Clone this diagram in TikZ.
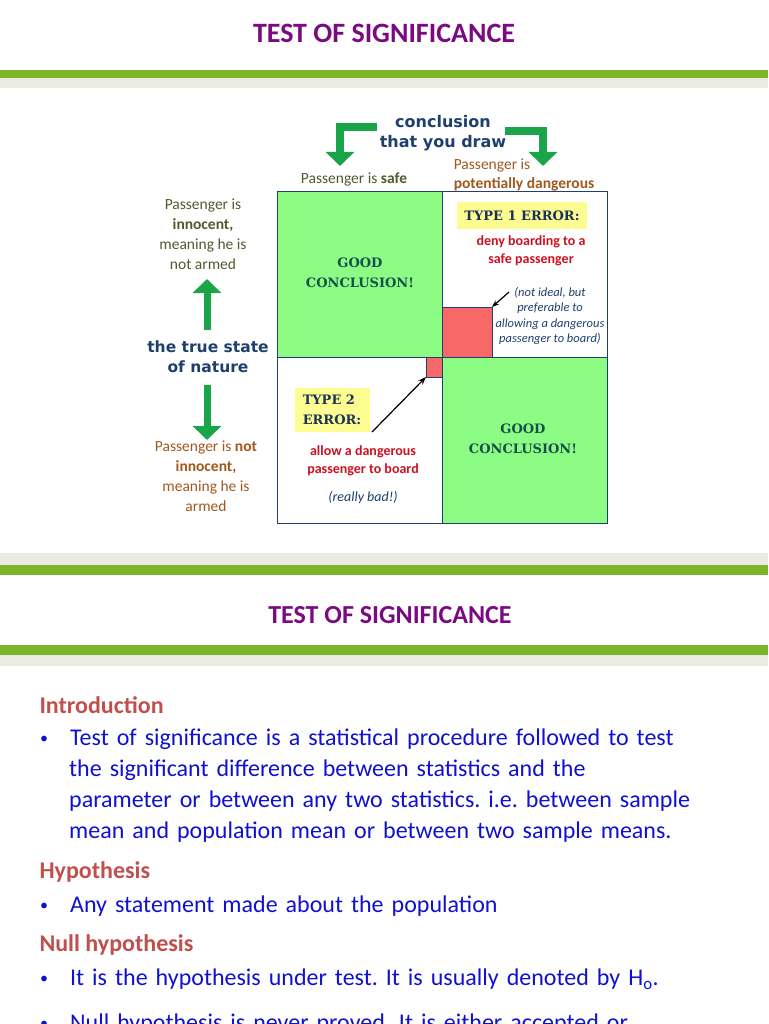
\documentclass[tikz,border=0pt]{standalone}
\usepackage{fontspec}
\setmainfont{Carlito}
\newfontfamily\slab{DejaVu Serif}
\newfontfamily\dvs{DejaVu Sans}
\usetikzlibrary{arrows.meta}
\definecolor{titlec}{HTML}{7B0A82}
\definecolor{barg}{HTML}{7DB52A}
\definecolor{barb}{HTML}{ECEBE2}
\definecolor{boxg}{HTML}{8CFC84}
\definecolor{redsq}{HTML}{F86868}
\definecolor{ylw}{HTML}{FCFC90}
\definecolor{navy}{HTML}{1F3F6E}
\definecolor{olive}{HTML}{4E5A2E}
\definecolor{brn}{HTML}{A0581E}
\definecolor{redt}{HTML}{CC1122}
\definecolor{hdr}{HTML}{C0504D}
\definecolor{bodyb}{HTML}{1010D0}
\definecolor{arrg}{HTML}{1AA54A}
\definecolor{slabc}{HTML}{17504A}
\tikzset{
 title/.style={font=\bfseries\fontsize{28}{30}\selectfont, text=titlec},
 cell/.style={draw=navy, line width=1pt},
 slabt/.style={font=\slab\bfseries\fontsize{13}{20}\selectfont, text=slabc, align=center},
 hd/.style={anchor=west, font=\bfseries\fontsize{24}{26}\selectfont, text=hdr},
 bl/.style={anchor=north west, font=\fontsize{24}{31}\selectfont\frenchspacing, text=bodyb, align=left, text width=720pt, inner sep=0pt},
 garrow/.style={draw=arrg, line width=7pt, -{Triangle[length=14pt,width=28pt]}},
}
\newcommand{\bul}{{\fontsize{16}{16}\selectfont\raisebox{2pt}{\textbullet}}\hspace{22pt}}
\begin{document}
\begin{tikzpicture}[x=1pt,y=-1pt]
\useasboundingbox (0,0) rectangle (768,1024);
\clip (0,0) rectangle (768,1024);
% top slide
\node[title] (t1) at (384,33) {TEST OF SIGNIFICANCE};
\fill[barg] (0,70) rectangle (768,78);
\fill[barb] (0,78) rectangle (768,88);
% cells
\fill[boxg] (277,192) rectangle (442,357);
\fill[boxg] (442,357) rectangle (607,523);
\fill[redsq] (442,307) rectangle (492,357);
\fill[redsq] (426,357) rectangle (442,377);
\draw[cell] (277,192) rectangle (607,523);
\draw[cell] (442,192) -- (442,523);
\draw[cell] (277,357) -- (607,357);
\draw[navy, line width=0.6pt] (442,307) -- (492,307) -- (492,357);
\draw[navy, line width=0.6pt] (426,357) -- (426,377) -- (442,377);
\node[slabt] (g1) at (360,273) {GOOD\\CONCLUSION!};
\node[slabt] (g2) at (523,439) {GOOD\\CONCLUSION!};
\node[fill=ylw, slabt, text=navy!80!black, minimum width=130pt, minimum height=27pt, inner xsep=2pt] (ty1) at (522,216) {TYPE 1 ERROR:};
\node[fill=ylw, slabt, text=navy!80!black, align=left, minimum width=75pt, minimum height=44pt, inner xsep=3pt] (ty2) at (332,410) {TYPE 2\\ERROR:};
\node[text=redt, font=\bfseries\fontsize{14}{17.5}\selectfont, align=center] (d1) at (531,251) {deny boarding to a\\safe passenger};
\node[text=redt, font=\bfseries\fontsize{14}{17.5}\selectfont, align=center] (d2) at (363,461) {allow a dangerous\\passenger to board};
\node[text=navy, font=\itshape\fontsize{14}{16}\selectfont] (rb) at (363,498) {(really bad!)};
\node[text=navy, font=\itshape\fontsize{12.5}{15.5}\selectfont, align=center, inner sep=0pt] (ni) at (550,316) {(not ideal, but\\preferable to\\allowing a dangerous\\passenger to board)};
\coordinate (rs1) at (492,307);
\coordinate (rs2) at (426,377);
\draw[-{Stealth[length=7pt]}, line width=1.2pt] (509,292) -- (rs1);
\draw[-{Stealth[length=8pt]}, line width=1.2pt] (372,432) -- (rs2);
% top labels
\node[text=navy, font=\dvs\bfseries\fontsize{16}{20}\selectfont, align=center] (cl) at (443,133) {conclusion\\that you draw};
\node[text=olive, font=\fontsize{15.5}{16}\selectfont] (ps) at (354,179) {Passenger is \textbf{safe}};
\node[text=brn, font=\fontsize{15.5}{19}\selectfont, align=left] (pd) at (524,175) {Passenger is\\\textbf{potentially dangerous}};
\draw[garrow, line width=8pt] (377,127) -- (340,127) -- (340,166);
\draw[garrow, line width=8pt] (505,131) -- (543,131) -- (543,166);
% left labels
\node[text=olive, font=\fontsize{15.5}{20}\selectfont, align=center] (in1) at (203,234) {Passenger is\\\textbf{innocent,}\\meaning he is\\not armed};
\node[text=navy, font=\dvs\bfseries\fontsize{15.5}{20}\selectfont, align=center] (tsn) at (208,357) {the true state\\of nature};
\node[text=brn, font=\fontsize{15.5}{20}\selectfont, align=center] (in2) at (206,476) {Passenger is \textbf{not}\\\textbf{innocent,}\\meaning he is\\armed};
\draw[garrow] (207,330) -- (207,279);
\draw[garrow] (207,385) -- (207,440);
% second slide
\fill[barb] (0,553) rectangle (768,565);
\fill[barg] (0,565) rectangle (768,575);
\node[title, font=\bfseries\fontsize{26}{28}\selectfont] (t2) at (390,615) {TEST OF SIGNIFICANCE};
\fill[barg] (0,645) rectangle (768,655);
\fill[barb] (0,655) rectangle (768,666);
\node[hd] (h1) at (36,705) {Introduction};
\node[bl] (b1) at (40,729) {\bul Test of significance is a statistical procedure followed to test\\\hspace{29pt}the significant difference between statistics and the\\\hspace{29pt}parameter or between any two statistics. i.e. between sample\\\hspace{29pt}mean and population mean or between two sample means.};
\node[hd] (h2) at (36,872) {Hypothesis};
\node[bl] (b2) at (40,896) {\bul Any statement made about the population};
\node[hd] (h3) at (36,945) {Null hypothesis};
\node[bl] (b3) at (40,969) {\bul It is the hypothesis under test. It is usually denoted by H$_{\mathrm{o}}$.};
\node[bl] (b4) at (40,1014) {\bul Null hypothesis is never proved. It is either accepted or};
\end{tikzpicture}
\end{document}
